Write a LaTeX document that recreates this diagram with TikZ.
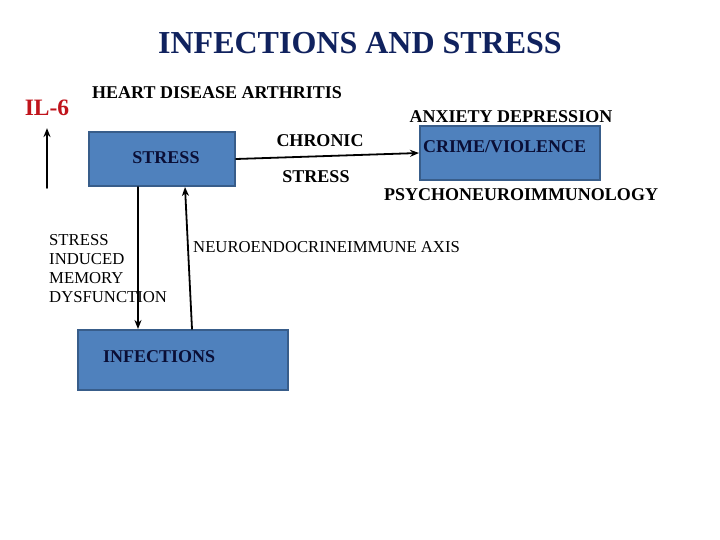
\documentclass[tikz,border=0pt]{standalone}
\usepackage{fontspec}
\setmainfont{Liberation Serif}
\usetikzlibrary{arrows.meta}
\usetikzlibrary{calc}

\definecolor{boxblue}{HTML}{4F81BD}
\definecolor{boxedge}{HTML}{385D8A}
\definecolor{titlenavy}{HTML}{10225E}
\definecolor{boxtext}{HTML}{0A0E35}
\definecolor{ilred}{HTML}{C0141C}

\tikzset{
    bluebox/.style={draw=boxedge, fill=boxblue, line width=2.5pt},
    lbl/.style={font=\fontsize{18}{20}\selectfont\bfseries, inner sep=0pt},
    plain/.style={font=\fontsize{16.7}{19}\selectfont, inner sep=0pt},
    link/.style={line width=1.8pt, -{Stealth[length=9pt, width=7pt]}}
}

\begin{document}
\begin{tikzpicture}[line cap=round, x=1pt, y=-1pt]

    \useasboundingbox (0, 0) rectangle (720, 540);

    \node[font=\fontsize{32}{35}\selectfont\bfseries, text=titlenavy] (title) at (360, 43) {INFECTIONS AND STRESS};

    \node[font=\fontsize{23.5}{26}\selectfont\bfseries, text=ilred, inner sep=0pt] (il6) at (47, 108) {IL-6};
    \coordinate (il6base) at (47, 188);
    \draw[link, shorten >=12pt] (il6base) -- (il6.south);

    \node[lbl, anchor=west] (heart) at (92, 93) {HEART DISEASE ARTHRITIS};

    % boxes
    \draw[bluebox] (89, 132) rectangle (235, 186);
    \node[lbl, text=boxtext] (stress) at (166, 158) {STRESS};
    \draw[bluebox] (420, 126) rectangle (600, 180);
    \node[lbl, text=boxtext, anchor=west] (crime) at (423, 147) {CRIME/VIOLENCE};
    \draw[bluebox] (78, 330) rectangle (288, 390);
    \node[lbl, text=boxtext, anchor=west] (infect) at (103, 357) {INFECTIONS};

    \coordinate (stressE) at (236, 159);
    \coordinate (crimeW) at (419, 153);
    \coordinate (stressS1) at (138, 187);
    \coordinate (stressS2) at (185, 187);
    \coordinate (infN1) at (138, 329);
    \coordinate (infN2) at (192, 329);

    \draw[link] (stressE) -- (crimeW);
    \draw[link] (stressS1) -- (infN1);
    \draw[link] (infN2) -- (stressS2);

    \node[lbl] (chronic) at (320, 141) {CHRONIC};
    \node[lbl] (chronic2) at (316, 177) {STRESS};
    \node[lbl] (anxiety) at (511, 117) {ANXIETY DEPRESSION};
    \node[lbl] (pni) at (521, 195) {PSYCHONEUROIMMUNOLOGY};

    \node[plain, anchor=north west, align=left] (memory) at (49, 234) {STRESS\\INDUCED\\MEMORY\\DYSFUNCTION};
    \node[plain, anchor=west] (axis) at (193, 247) {NEUROENDOCRINEIMMUNE AXIS};

\end{tikzpicture}
\end{document}
